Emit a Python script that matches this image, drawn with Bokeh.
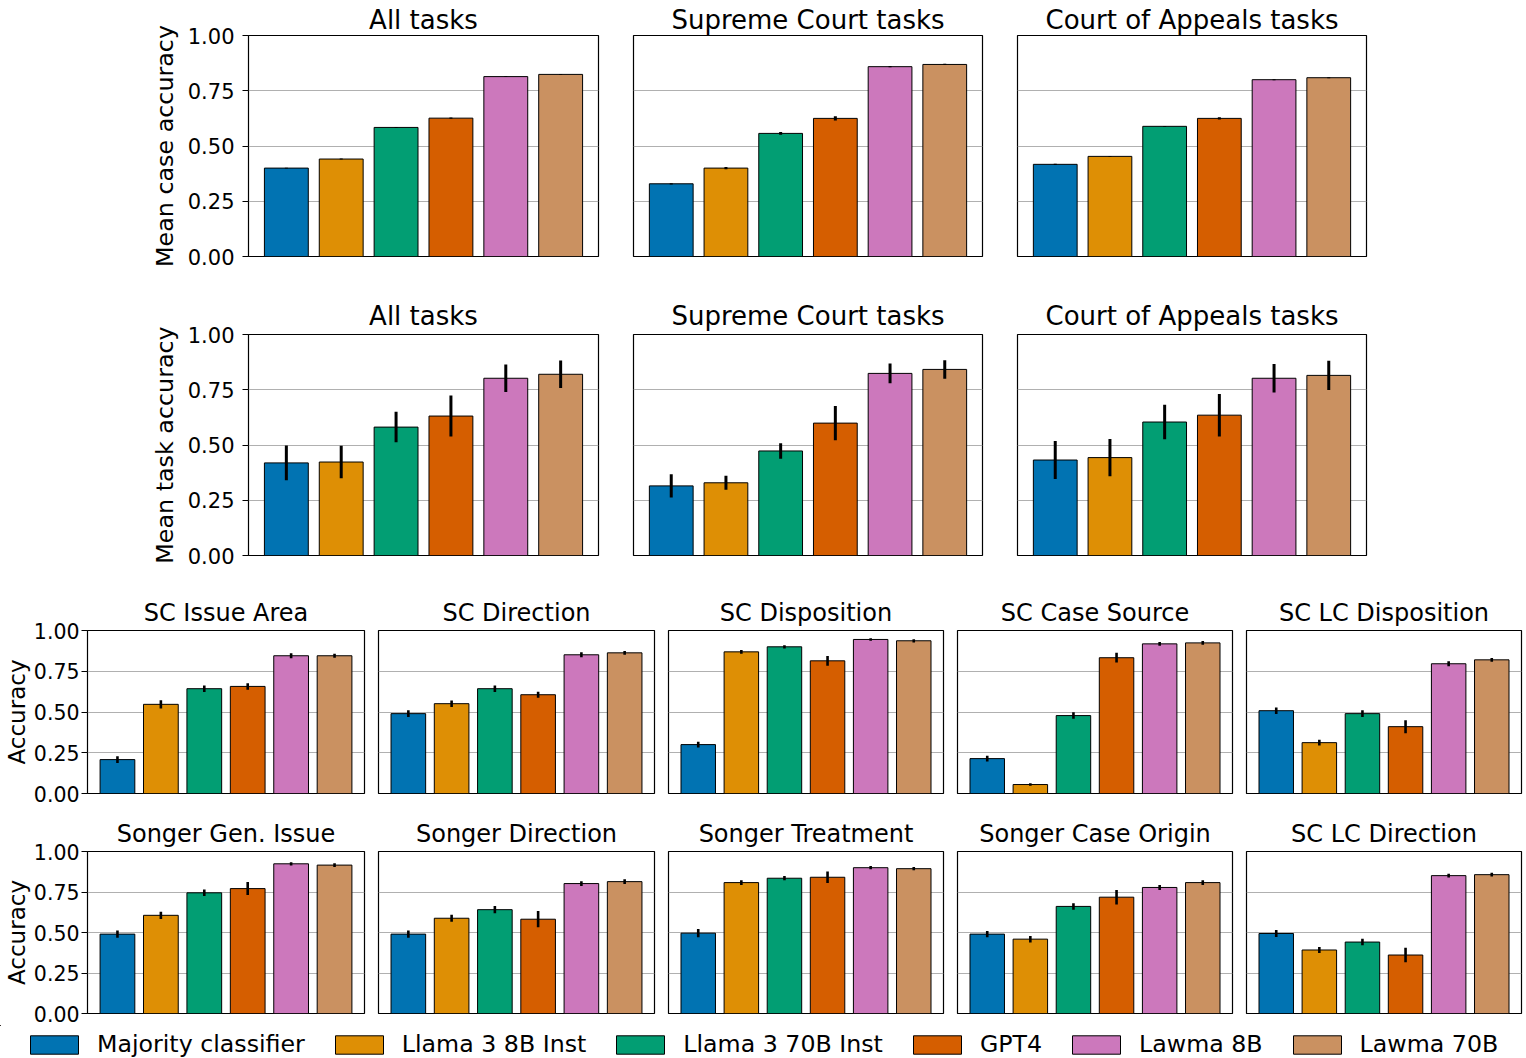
from bokeh.plotting import figure
from bokeh.layouts import column, row
from bokeh.models import Range1d, FixedTicker, PrintfTickFormatter, Legend, LegendItem, ColumnDataSource
from bokeh.embed import file_html
from bokeh.resources import INLINE

FONT = "DejaVu Sans"

models = ["Majority classifier", "Llama 3 8B Inst", "Llama 3 70B Inst", "GPT4", "Lawma 8B", "Lawma 70B"]
colors = ["#0173B2", "#DE8F05", "#029E73", "#D55E00", "#CC78BC", "#CA9161"]

# Row 1: mean case accuracy
case_titles = ["All tasks", "Supreme Court tasks", "Court of Appeals tasks"]
case_all = [0.400, 0.441, 0.584, 0.626, 0.814, 0.824]
case_all_err = [0.002, 0.002, 0.002, 0.003, 0.002, 0.002]
case_sc = [0.329, 0.400, 0.557, 0.625, 0.859, 0.869]
case_sc_err = [0.003, 0.005, 0.006, 0.010, 0.003, 0.003]
case_coa = [0.417, 0.453, 0.589, 0.625, 0.800, 0.809]
case_coa_err = [0.003, 0.002, 0.002, 0.005, 0.002, 0.002]

# Row 2: mean task accuracy
task_all = [0.419, 0.423, 0.581, 0.631, 0.802, 0.820]
task_all_err = [0.079, 0.074, 0.069, 0.093, 0.062, 0.062]
task_sc = [0.315, 0.329, 0.473, 0.599, 0.824, 0.842]
task_sc_err = [0.053, 0.032, 0.035, 0.077, 0.045, 0.042]
task_coa = [0.432, 0.443, 0.604, 0.635, 0.802, 0.815]
task_coa_err = [0.086, 0.084, 0.078, 0.096, 0.065, 0.066]

# Rows 3-4: per-task accuracy
task_names = ["SC Issue Area", "SC Direction", "SC Disposition", "SC Case Source", "SC LC Disposition",
              "Songer Gen. Issue", "Songer Direction", "Songer Treatment", "Songer Case Origin", "SC LC Direction"]
sc_issue_area = [0.208, 0.547, 0.643, 0.657, 0.845, 0.845]
sc_issue_area_err = [0.021, 0.025, 0.020, 0.020, 0.015, 0.012]
sc_direction = [0.490, 0.551, 0.643, 0.606, 0.851, 0.863]
sc_direction_err = [0.020, 0.020, 0.020, 0.018, 0.015, 0.012]
sc_disposition = [0.300, 0.869, 0.900, 0.814, 0.945, 0.937]
sc_disposition_err = [0.018, 0.012, 0.010, 0.030, 0.008, 0.010]
sc_case_source = [0.214, 0.055, 0.478, 0.833, 0.918, 0.924]
sc_case_source_err = [0.018, 0.008, 0.020, 0.030, 0.012, 0.012]
sc_lc_disposition = [0.508, 0.312, 0.490, 0.410, 0.796, 0.820]
sc_lc_disposition_err = [0.020, 0.018, 0.020, 0.040, 0.015, 0.012]
songer_gen_issue = [0.490, 0.606, 0.745, 0.771, 0.924, 0.916]
songer_gen_issue_err = [0.022, 0.022, 0.020, 0.040, 0.010, 0.012]
songer_direction = [0.490, 0.588, 0.641, 0.582, 0.802, 0.814]
songer_direction_err = [0.022, 0.022, 0.022, 0.050, 0.015, 0.015]
songer_treatment = [0.496, 0.808, 0.835, 0.841, 0.900, 0.894]
songer_treatment_err = [0.025, 0.015, 0.013, 0.035, 0.010, 0.010]
songer_case_origin = [0.490, 0.459, 0.661, 0.718, 0.778, 0.808]
songer_case_origin_err = [0.020, 0.020, 0.020, 0.045, 0.015, 0.015]
sc_lc_direction = [0.494, 0.392, 0.441, 0.361, 0.851, 0.857]
sc_lc_direction_err = [0.022, 0.018, 0.020, 0.045, 0.012, 0.012]

yticks = [0.0, 0.25, 0.5, 0.75, 1.0]
gridticks = [0.25, 0.5, 0.75]


def panel(title, vals, errs, fw, fh, left, top, bottom, right, ylabel=None,
          title_size="26.5px", tick_size="21px", label_size="23.8px", err_w=3,
          tick_standoff=8, label_standoff=6, title_standoff=7):
    p = figure(frame_width=fw, frame_height=fh,
               x_range=Range1d(-0.69, 5.69), y_range=Range1d(0, 1),
               x_axis_location=None, y_axis_location="left" if ylabel else None,
               toolbar_location=None, output_backend="svg",
               min_border_left=left, min_border_right=right,
               min_border_top=top, min_border_bottom=bottom,
               title=title, background_fill_color="white", border_fill_color="white")
    p.outline_line_color = "black"
    p.outline_line_width = 1.2
    p.title.align = "center"
    p.title.text_font = FONT
    p.title.text_font_size = title_size
    p.title.text_font_style = "normal"
    p.title.text_color = "black"
    p.title.standoff = title_standoff
    p.xgrid.visible = False
    p.ygrid.ticker = FixedTicker(ticks=gridticks)
    p.ygrid.grid_line_color = "#b0b0b0"
    p.ygrid.grid_line_width = 1.1
    if ylabel:
        ax = p.yaxis[0]
        ax.ticker = FixedTicker(ticks=yticks)
        ax.formatter = PrintfTickFormatter(format="%.2f")
        ax.axis_label = ylabel
        ax.axis_label_text_font = FONT
        ax.axis_label_text_font_size = label_size
        ax.axis_label_text_font_style = "normal"
        ax.axis_label_text_color = "black"
        ax.axis_label_standoff = label_standoff
        ax.major_label_text_font = FONT
        ax.major_label_text_font_size = tick_size
        ax.major_label_text_color = "black"
        ax.major_label_standoff = tick_standoff
        ax.major_tick_out = 6
        ax.major_tick_in = 0
        ax.major_tick_line_width = 1.2
        ax.major_tick_line_color = "black"
        ax.minor_tick_line_color = None
        ax.axis_line_color = None
    src = ColumnDataSource(dict(
        x=list(range(len(vals))), top=vals,
        lo=[v - e for v, e in zip(vals, errs)],
        hi=[v + e for v, e in zip(vals, errs)],
        color=colors))
    p.vbar(x="x", top="top", bottom=0, width=0.8, source=src,
           fill_color="color", line_color="black", line_width=1)
    p.segment(x0="x", y0="lo", x1="x", y1="hi", source=src,
              line_color="black", line_width=err_w)
    return p


# Top two rows
r1 = []
r2 = []
top_sets_1 = [(case_all, case_all_err), (case_sc, case_sc_err), (case_coa, case_coa_err)]
top_sets_2 = [(task_all, task_all_err), (task_sc, task_sc_err), (task_coa, task_coa_err)]
for i in range(3):
    left = 248 if i == 0 else 33
    fw = 350 if i == 0 else 349
    r1.append(panel(case_titles[i], *top_sets_1[i], fw, 221, left, 35, 14, 2,
                    ylabel="Mean case accuracy" if i == 0 else None,
                    title_size="26px", title_standoff=1))
    r2.append(panel(case_titles[i], *top_sets_2[i], fw, 221, left, 64, 14, 2,
                    ylabel="Mean task accuracy" if i == 0 else None,
                    title_size="26px"))

bottom_sets = [(sc_issue_area, sc_issue_area_err), (sc_direction, sc_direction_err),
               (sc_disposition, sc_disposition_err), (sc_case_source, sc_case_source_err),
               (sc_lc_disposition, sc_lc_disposition_err),
               (songer_gen_issue, songer_gen_issue_err), (songer_direction, songer_direction_err),
               (songer_treatment, songer_treatment_err), (songer_case_origin, songer_case_origin_err),
               (sc_lc_direction, sc_lc_direction_err)]
bottom_widths = [277, 276, 275, 275, 275]
r3 = []
r4 = []
for k in range(10):
    i = k % 5
    left = 86 if i == 0 else 12
    top = 61 if k < 5 else 46
    fh = 163 if k < 5 else 162
    p = panel(task_names[k], *bottom_sets[k], bottom_widths[i], fh, left, top, 12, 2,
              ylabel="Accuracy" if i == 0 else None,
              title_size="24px", tick_size="20.5px", label_size="23px", err_w=2.6,
              tick_standoff=2, label_standoff=1, title_standoff=8)
    (r3 if k < 5 else r4).append(p)

# Legend strip
lf = figure(width=1522, height=33, x_range=Range1d(10, 11), y_range=Range1d(-2, -1),
            x_axis_location=None, y_axis_location=None, toolbar_location=None,
            output_backend="svg", min_border=0, outline_line_color=None)
lf.xgrid.visible = False
lf.ygrid.visible = False
items = []
for i, (m, c) in enumerate(zip(models, colors)):
    s = ColumnDataSource(dict(x=[i], top=[case_all[i]]))
    rr = lf.vbar(x="x", top="top", bottom=0, width=0.8, source=s,
                 fill_color=c, line_color="black", line_width=1)
    items.append(LegendItem(label=m, renderers=[rr]))
leg = Legend(items=items, orientation="horizontal", location=(24, 0),
             glyph_width=60, glyph_height=23, label_standoff=13, spacing=24,
             padding=0, margin=0, border_line_color=None, background_fill_alpha=0,
             label_text_font=FONT, label_text_font_size="23.7px", label_text_color="black")
lf.add_layout(leg, "center")

layout = column(row(*r1), row(*r2), row(*r3), row(*r4), lf)
open("out.html", "w").write(file_html(layout, INLINE))
